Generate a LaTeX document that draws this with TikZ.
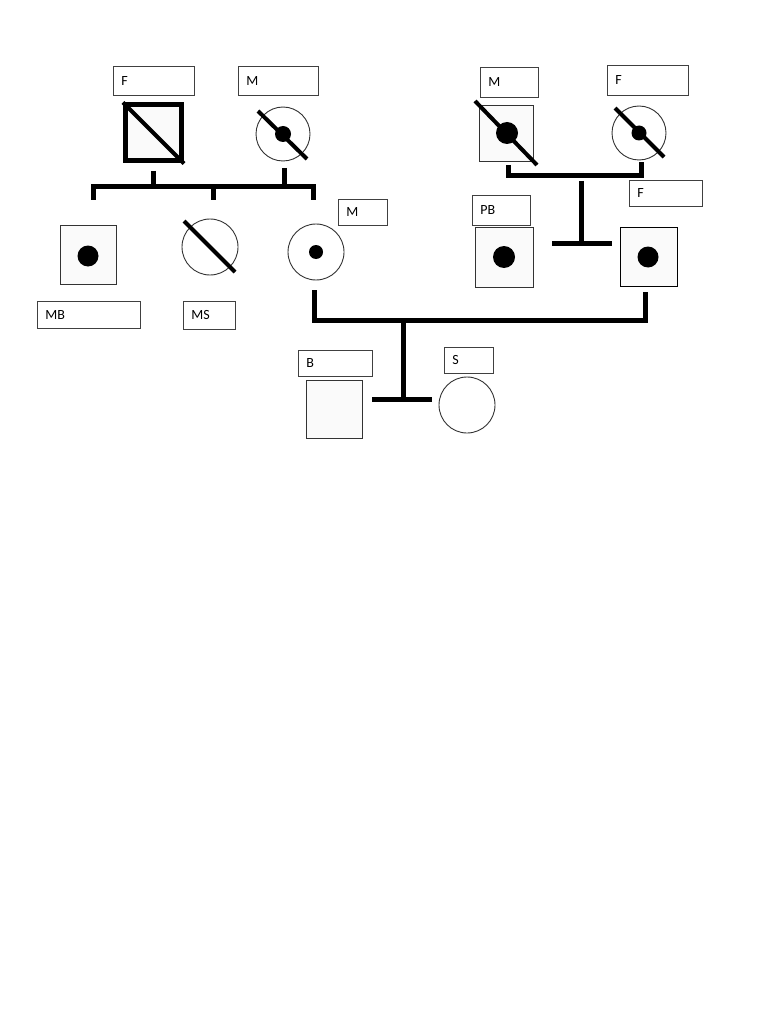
\documentclass[tikz,border=0pt]{standalone}
\usepackage{fontspec}
\setmainfont{Carlito}
\begin{document}
\begin{tikzpicture}[x=1pt,y=-1pt,
  lbl/.style={draw=black!75, line width=0.9pt, anchor=north west, align=left,
    inner xsep=8pt, inner ysep=0pt, font=\fontsize{14}{15}\selectfont},
  sq/.style={draw=black!80, line width=0.9pt, fill=black!2, inner sep=0pt},
  circ/.style={circle, draw=black!80, line width=0.9pt, inner sep=0pt},
  dot/.style={circle, fill=black, inner sep=0pt, minimum size=#1},
  link/.style={line width=5pt, line join=miter},
  slash/.style={line width=4pt}]
\useasboundingbox[fill=white] (0,0) rectangle (768,1024);

% ---- labels
\node[lbl, minimum height=29pt, text width=65pt] (lF) at (113,66) {F};
\node[lbl, minimum height=29pt, text width=64pt] (lM) at (238,66) {M};
\node[lbl, minimum height=26pt, text width=33pt] (lM2) at (338,199) {M};
\node[lbl, minimum height=27pt, text width=87pt] (lMB) at (37,301) {MB};
\node[lbl, minimum height=28pt, text width=36pt] (lMS) at (183,301) {MS};
\node[lbl, minimum height=30pt, text width=42pt] (lRM) at (480,67) {M};
\node[lbl, minimum height=30pt, text width=65pt] (lRF) at (607,65) {F};
\node[lbl, minimum height=26pt, text width=57pt] (lRF2) at (629,180) {F};
\node[lbl, minimum height=30pt, text width=42pt] (lPB) at (472,195) {PB};
\node[lbl, minimum height=26pt, text width=58pt] (lB) at (298,350) {B};
\node[lbl, minimum height=26pt, text width=33pt] (lS) at (444,347) {S};

% ---- left grandparents
\node[sq, draw=black, line width=5pt, minimum size=56pt] (Fsq) at (153.5,133) {};
\draw[slash] (Fsq.north west) -- (Fsq.south east);
\node[circ, minimum size=54pt] (Mc) at (283,134) {};
\node[dot=16pt] (Mcd) at (Mc.center) {};
\coordinate (Mcs1) at (258,111);
\coordinate (Mcs2) at (307,159);
\draw[slash] (Mcs1) -- (Mcs2);

% ---- left children
\node[sq, minimum width=56pt, minimum height=59pt] (MBsq) at (88.5,255) {};
\node[dot=21pt] (MBd) at (88,256) {};
\node[circ, minimum size=56pt] (MSc) at (210,247) {};
\coordinate (MSs1) at (184,221);
\coordinate (MSs2) at (235,272);
\draw[slash] (MSs1) -- (MSs2);
\node[circ, minimum size=56pt] (Mc2) at (316,252) {};
\node[dot=14pt] (Mc2d) at (Mc2.center) {};

% ---- left sibship lines
\coordinate (FsqStub) at (153,171);
\coordinate (FsqJ) at (153,187);
\coordinate (McStub) at (284,168);
\coordinate (McJ) at (284,187);
\coordinate (Ld1) at (93,200);
\coordinate (Lc1) at (93,187);
\coordinate (Ld2) at (213,200);
\coordinate (Lc2) at (213,187);
\coordinate (Ld3) at (313,200);
\coordinate (Lc3) at (313,187);
\draw[link] (FsqStub) -- (FsqJ);
\draw[link] (McStub) -- (McJ);
\draw[link] (Ld1) -- (Lc1) -- (Lc3) -- (Ld3);
\draw[link] (Lc2) -- (Ld2);

% ---- right grandparents
\node[sq, minimum width=54pt, minimum height=56pt] (RMsq) at (506,133) {};
\node[dot=22pt] (RMd) at (507,133) {};
\coordinate (RMs1) at (475,101);
\coordinate (RMs2) at (537,165);
\draw[slash] (RMs1) -- (RMs2);
\node[circ, minimum size=54pt] (RFc) at (639,133) {};
\node[dot=15pt] (RFd) at (RFc.center) {};
\coordinate (RFs1) at (615,108);
\coordinate (RFs2) at (664,157);
\draw[slash] (RFs1) -- (RFs2);

\coordinate (Rs1) at (508,165);
\coordinate (Rc1) at (508,176);
\coordinate (Rc2) at (641,176);
\coordinate (Rs2) at (641,162);
\draw[link] (Rs1) -- (Rc1) -- (Rc2) -- (Rs2);
\coordinate (Rv1) at (581,181);
\coordinate (Rv2) at (581,243);
\coordinate (Rb1) at (552,243);
\coordinate (Rb2) at (612,243);
\draw[link] (Rv1) -- (Rv2);
\draw[link] (Rb1) -- (Rb2);

% ---- right children
\node[sq, minimum width=58pt, minimum height=60pt] (PBsq) at (504,257) {};
\node[dot=22pt] (PBd) at (PBsq.center) {};
\node[sq, draw=black, minimum width=57pt, minimum height=59pt] (RFsq) at (648.5,256.5) {};
\node[dot=21pt] (RFsqd) at (648,257) {};

% ---- marriage line
\coordinate (Bs1) at (314,290);
\coordinate (Bc1) at (314,320);
\coordinate (Bc2) at (645,320);
\coordinate (Bs2) at (645,292);
\draw[link] (Bs1) -- (Bc1) -- (Bc2) -- (Bs2);
\coordinate (Bv1) at (403,320);
\coordinate (Bv2) at (403,399);
\coordinate (Bb1) at (372,399);
\coordinate (Bb2) at (432,399);
\draw[link] (Bv1) -- (Bv2);
\draw[link] (Bb1) -- (Bb2);

% ---- bottom children
\node[sq, minimum width=56pt, minimum height=58pt] (Bsq) at (334,409) {};
\node[circ, minimum size=56pt] (Sc) at (467,405) {};
\end{tikzpicture}
\end{document}
